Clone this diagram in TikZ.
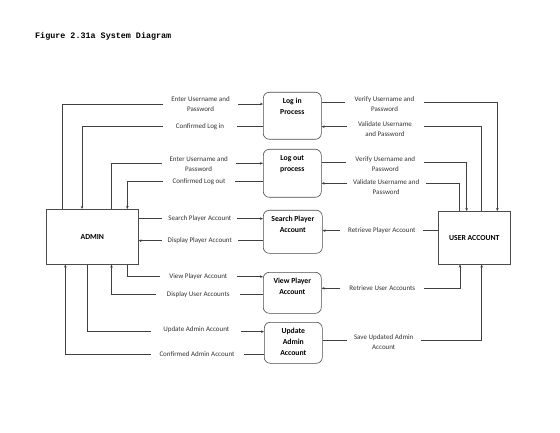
\documentclass[tikz,border=0pt]{standalone}
\usepackage{fontspec}
\setmainfont{Carlito}
\newfontfamily\titlefont{Liberation Mono}
\usetikzlibrary{arrows.meta}
\newcommand{\boxtext}[2]{\parbox[c][#1pt][t]{58pt}{\centering\vspace*{6.1pt}#2}}
\begin{document}
\begin{tikzpicture}[x=1pt,y=-1pt,
  lbl/.style={inner sep=0pt, font=\fontsize{7}{10}\selectfont, align=center, text=black!80},
  proc/.style={draw=black!70, line width=0.6pt, rounded corners=6pt, inner sep=0pt, anchor=north west,
    font=\fontsize{7.7}{11}\selectfont\bfseries},
  ent/.style={draw=black!70, line width=0.6pt, inner sep=0pt, anchor=north west,
    font=\fontsize{7.7}{11}\selectfont\bfseries},
  flow/.style={draw=black!75, line width=0.6pt},
  arr/.style={-{Stealth[length=3pt,width=2.6pt]}},
  rarr/.style={{Stealth[length=3pt,width=2.6pt]}-}
]
\useasboundingbox[fill=white] (0,0) rectangle (560,433);

\node[anchor=west, inner sep=0pt, font=\titlefont\fontsize{8.4}{10}\selectfont\bfseries] (title) at (35,36.5) {Figure 2.31a System Diagram};

% entities
\node[ent, minimum width=92, minimum height=55] (admin) at (46,209) {ADMIN};
\node[ent, minimum width=72, minimum height=53] (user) at (438,211) {USER ACCOUNT};

% processes
\node[proc, minimum width=57, minimum height=47] (login) at (263,92) {\boxtext{47}{Log in\\Process}};
\node[proc, minimum width=57, minimum height=48] (logout) at (263,149) {\boxtext{48}{Log out\\process}};
\node[proc, minimum width=59, minimum height=43] (search) at (263,210) {\boxtext{43}{Search Player\\Account}};
\node[proc, minimum width=58, minimum height=41] (view) at (263,272) {\boxtext{41}{View Player\\Account}};
\node[proc, minimum width=58, minimum height=41] (update) at (264,322) {\boxtext{41}{Update\\Admin\\Account}};

% left labels
\node[lbl, minimum width=75] (l1) at (200.5,104.3) {Enter Username and\\Password};
\node[lbl, minimum width=74] (l2) at (200,126.5) {Confirmed Log in};
\node[lbl, minimum width=74] (l3) at (198.7,164.5) {Enter Username and\\Password};
\node[lbl, minimum width=72] (l4) at (199,181.7) {Confirmed Log out};
\node[lbl, minimum width=74.3] (l5) at (199.8,218.7) {Search Player Account};
\node[lbl, minimum width=76] (l6) at (199.8,240.7) {Display Player Account};
\node[lbl, minimum width=76.7] (l7) at (198.3,276.7) {View Player Account};
\node[lbl, minimum width=83.3] (l8) at (198.3,294.3) {Display User Accounts};
\node[lbl, minimum width=89.3] (l9) at (196.3,329.3) {Update Admin Account};
\node[lbl, minimum width=92.6] (l10) at (197,354.3) {Confirmed Admin Account};

% right labels
\node[lbl, minimum width=79] (r1) at (384.5,104.3) {Verify Username and\\Password};
\node[lbl, minimum width=76.6] (r2) at (385,129.3) {Validate Username\\and Password};
\node[lbl, minimum width=77.3] (r3) at (385.3,164.2) {Verify Username and\\Password};
\node[lbl, minimum width=79] (r4) at (386.2,187.3) {Validate Username and\\Password};
\node[lbl, minimum width=82.3] (r5) at (381.8,230.7) {Retrieve Player Account};
\node[lbl, minimum width=83.3] (r6) at (382.3,288.3) {Retrieve User Accounts};
\node[lbl, minimum width=74] (r7) at (383.7,342.5) {Save Updated Admin\\Account};

% bend coordinates (left)
\coordinate (b1) at (62.5,104);
\coordinate (b2) at (82,126.7);
\coordinate (b3) at (111,163.3);
\coordinate (b4) at (127.3,181.7);
\coordinate (b5) at (0,218.7);
\coordinate (b6) at (0,240.7);
\coordinate (b7) at (127.3,276.7);
\coordinate (b8) at (111.5,294.3);
\coordinate (b9) at (87.3,331.7);
\coordinate (b10) at (65.3,354.3);
% bend coordinates (right)
\coordinate (c1) at (497.3,102.7);
\coordinate (c2) at (481.7,126.7);
\coordinate (c3) at (466.7,162.7);
\coordinate (c4) at (459,183.3);
\coordinate (c5) at (0,230.7);
\coordinate (c6) at (460,288.3);
\coordinate (c7) at (481.7,340);

% left connectors
\draw[flow] (admin.north -| b1) |- (l1.west |- b1);
\draw[flow,arr] (l1.east |- b1) -- (login.west |- b1);
\draw[flow,arr] (l2.west |- b2) -| (admin.north -| b2);
\draw[flow] (login.west |- b2) -- (l2.east |- b2);
\draw[flow] (admin.north -| b3) |- (l3.west |- b3);
\draw[flow,arr] (l3.east |- b3) -- (logout.west |- b3);
\draw[flow,arr] (l4.west |- b4) -| (admin.north -| b4);
\draw[flow] (logout.west |- b4) -- (l4.east |- b4);
\draw[flow] (admin.east |- b5) -- (l5.west |- b5);
\draw[flow,arr] (l5.east |- b5) -- (search.west |- b5);
\draw[flow,arr] (l6.west |- b6) -- (admin.east |- b6);
\draw[flow] (search.west |- b6) -- (l6.east |- b6);
\draw[flow] (admin.south -| b7) |- (l7.west |- b7);
\draw[flow,arr] (l7.east |- b7) -- (view.west |- b7);
\draw[flow,arr] (l8.west |- b8) -| (admin.south -| b8);
\draw[flow] (view.west |- b8) -- (l8.east |- b8);
\draw[flow] (admin.south -| b9) |- (l9.west |- b9);
\draw[flow,arr] (l9.east |- b9) -- (update.west |- b9);
\draw[flow,arr] (l10.west |- b10) -| (admin.south -| b10);
\draw[flow] (update.west |- b10) -- (l10.east |- b10);

% right connectors
\draw[flow] (login.east |- c1) -- (r1.west |- c1);
\draw[flow,arr] (r1.east |- c1) -| (user.north -| c1);
\draw[flow,arr] (r2.west |- c2) -- (login.east |- c2);
\draw[flow] (user.north -| c2) |- (r2.east |- c2);
\draw[flow] (logout.east |- c3) -- (r3.west |- c3);
\draw[flow,arr] (r3.east |- c3) -| (user.north -| c3);
\draw[flow,arr] (r4.west |- c4) -- (logout.east |- c4);
\draw[flow] (user.north -| c4) |- (r4.east |- c4);
\draw[flow,arr] (r5.west |- c5) -- (search.east |- c5);
\draw[flow] (user.west |- c5) -- (r5.east |- c5);
\draw[flow,arr] (r6.west |- c6) -- (view.east |- c6);
\draw[flow,rarr] (user.south -| c6) |- (r6.east |- c6);
\draw[flow] (update.east |- c7) -- (r7.west |- c7);
\draw[flow,arr] (r7.east |- c7) -| (user.south -| c7);
\end{tikzpicture}
\end{document}
